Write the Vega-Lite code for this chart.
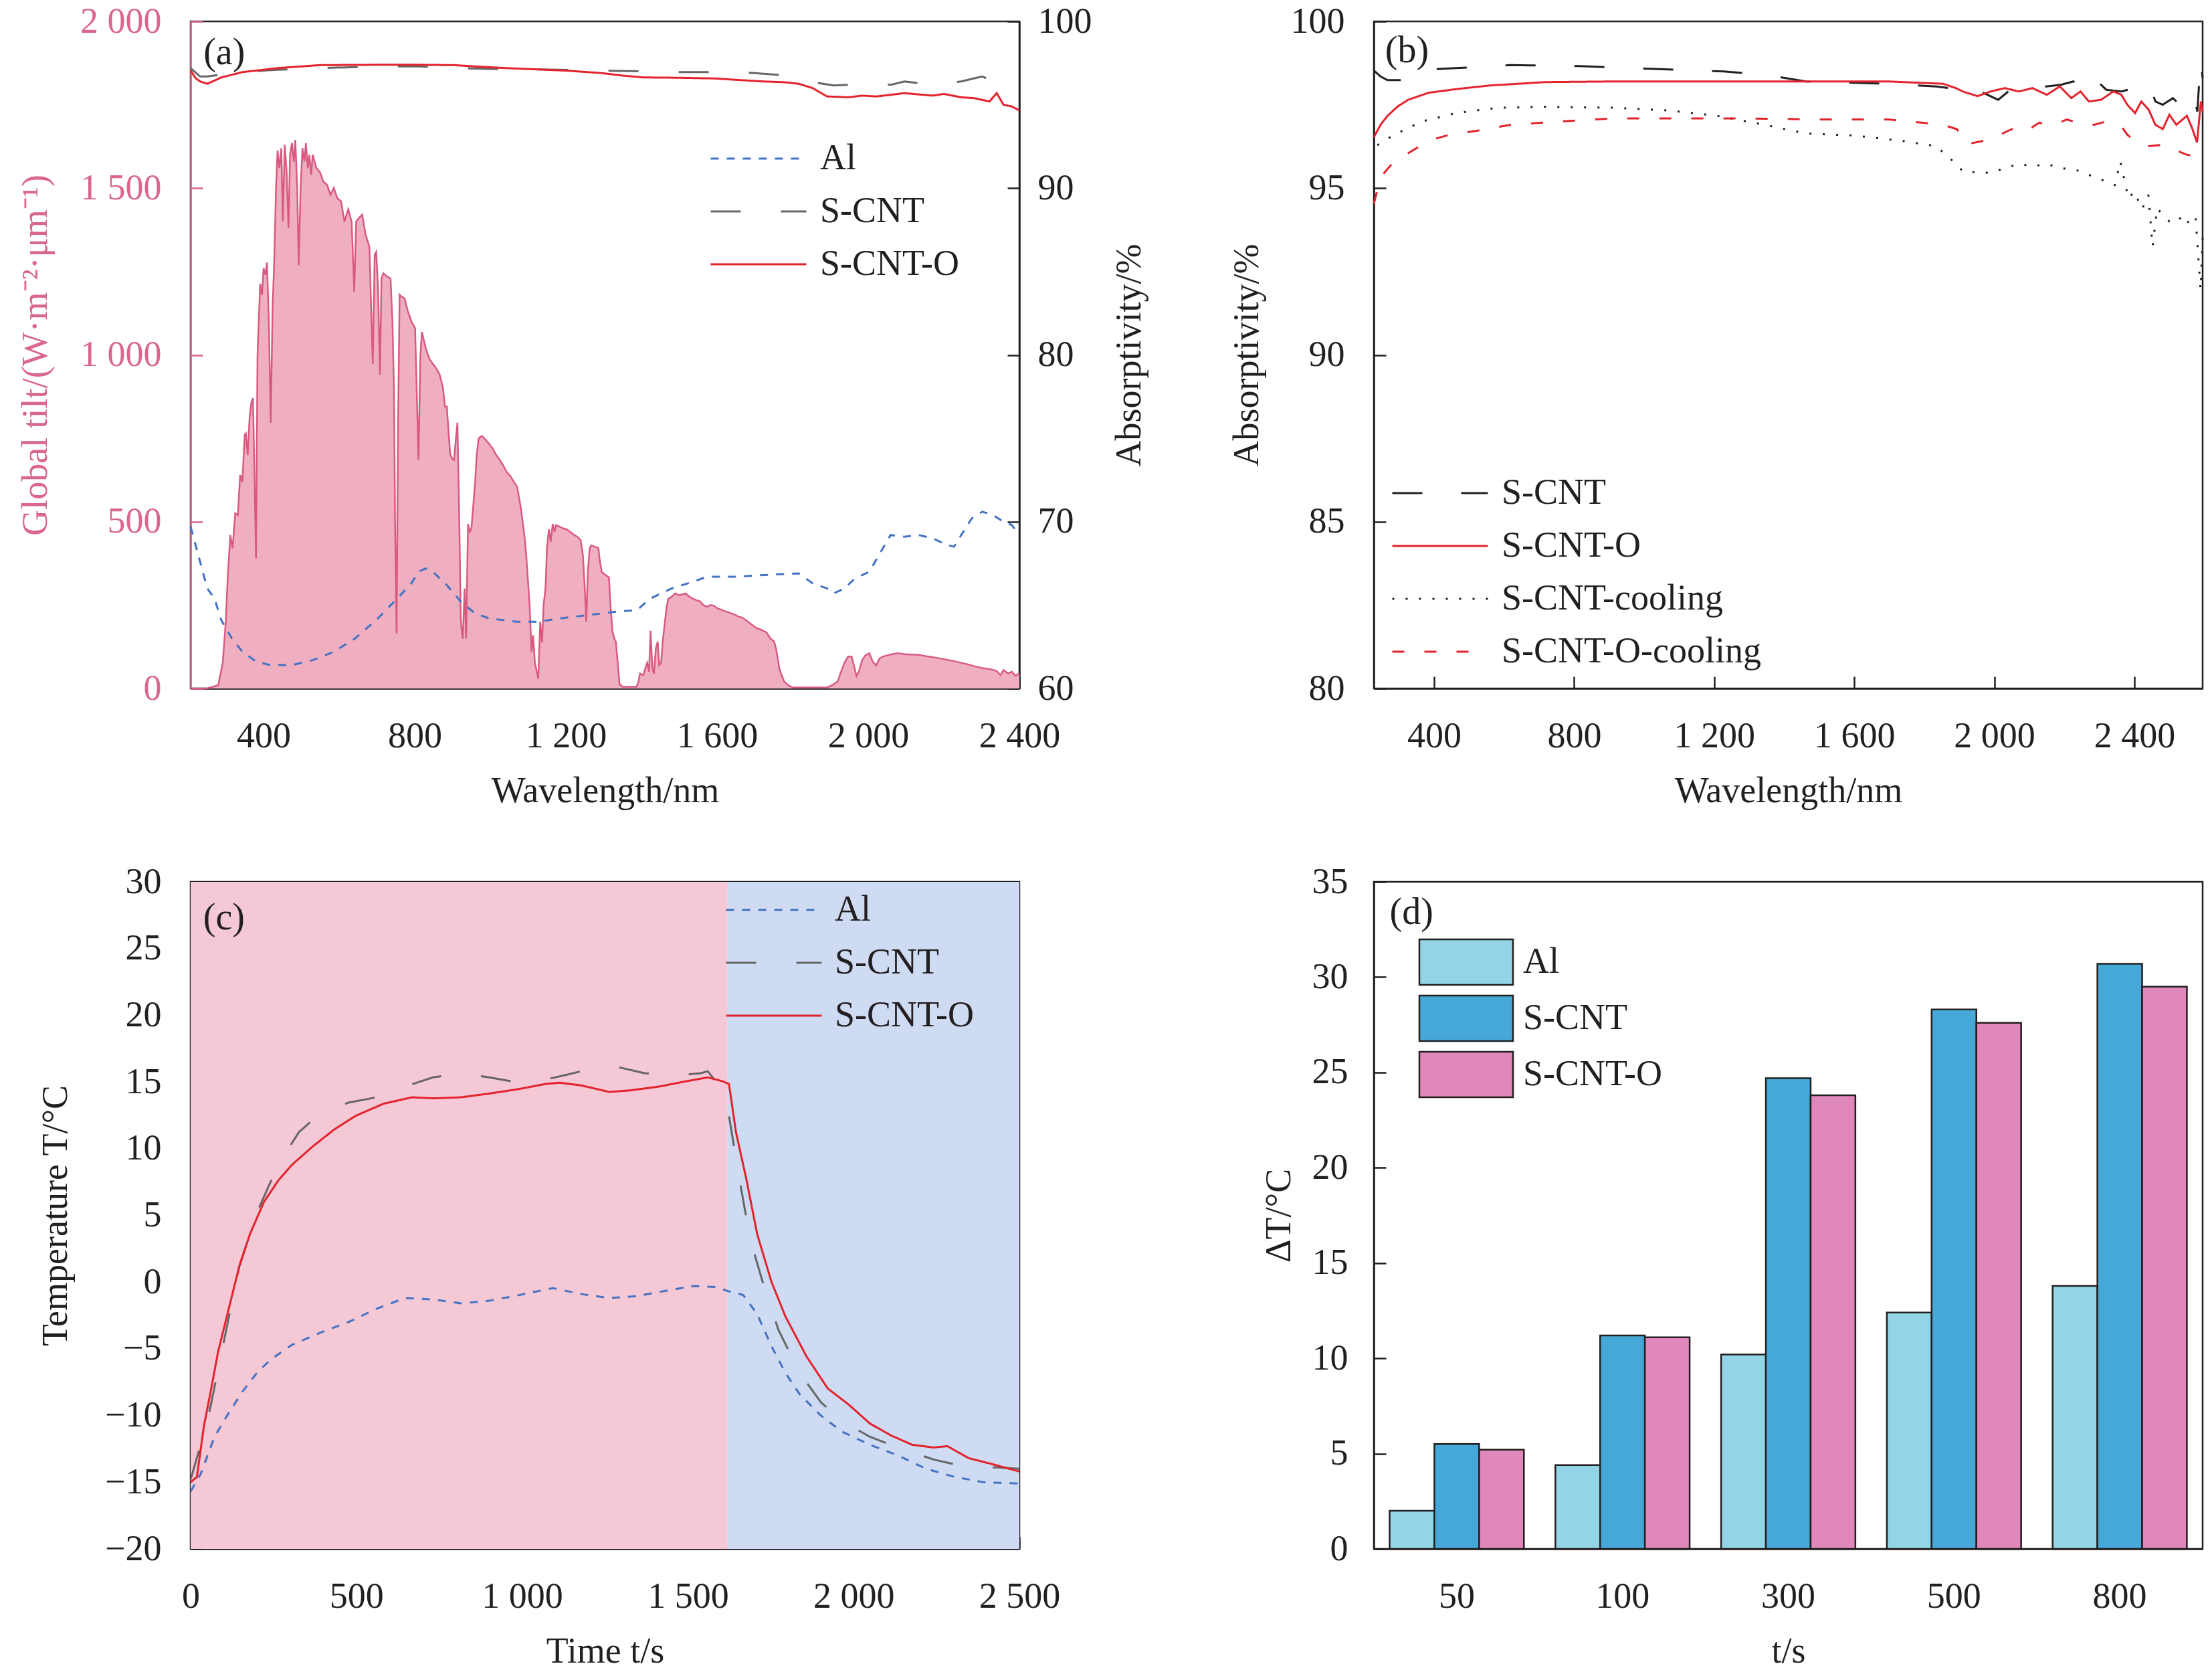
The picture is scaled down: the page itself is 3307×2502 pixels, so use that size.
{
  "$schema": "https://vega.github.io/schema/vega-lite/v6.json",
  "background": "white",
  "padding": {"left": 25, "top": 3, "right": 5, "bottom": 5},
  "columns": 2,
  "spacing": {"row": 289, "column": 530},
  "bounds": "flush",
  "resolve": {
    "scale": {"color": "independent", "strokeDash": "independent", "fill": "independent", "x": "independent", "y": "independent"},
    "legend": {"color": "independent", "strokeDash": "independent", "fill": "independent"}
  },
  "datasets": {
    "spectrum": [
      {"nm":207,"w":0},{"nm":250,"w":0},{"nm":266,"w":5},{"nm":280,"w":10},{"nm":292,"w":77},{"nm":300,"w":200},{"nm":305,"w":330},{"nm":312,"w":460},{"nm":318,"w":420},{"nm":325,"w":525},{"nm":332,"w":520},{"nm":338,"w":640},{"nm":344,"w":620},{"nm":350,"w":760},{"nm":353,"w":765},{"nm":358,"w":700},{"nm":363,"w":813},{"nm":368,"w":860},{"nm":372,"w":870},{"nm":376,"w":640},{"nm":380,"w":390},{"nm":384,"w":1000},{"nm":391,"w":1213},{"nm":396,"w":1180},{"nm":400,"w":1260},{"nm":405,"w":1240},{"nm":409,"w":1277},{"nm":414,"w":1100},{"nm":419,"w":797},{"nm":424,"w":1150},{"nm":428,"w":1270},{"nm":433,"w":1500},{"nm":437,"w":1613},{"nm":442,"w":1560},{"nm":447,"w":1620},{"nm":451,"w":1400},{"nm":456,"w":1630},{"nm":461,"w":1550},{"nm":466,"w":1380},{"nm":470,"w":1600},{"nm":475,"w":1635},{"nm":480,"w":1580},{"nm":484,"w":1645},{"nm":489,"w":1500},{"nm":493,"w":1269},{"nm":498,"w":1500},{"nm":503,"w":1620},{"nm":508,"w":1580},{"nm":512,"w":1635},{"nm":517,"w":1560},{"nm":521,"w":1600},{"nm":526,"w":1540},{"nm":530,"w":1600},{"nm":540,"w":1560},{"nm":549,"w":1549},{"nm":558,"w":1520},{"nm":568,"w":1510},{"nm":577,"w":1480},{"nm":586,"w":1501},{"nm":595,"w":1470},{"nm":605,"w":1461},{"nm":614,"w":1400},{"nm":624,"w":1437},{"nm":633,"w":1400},{"nm":640,"w":1189},{"nm":645,"w":1400},{"nm":652,"w":1410},{"nm":661,"w":1421},{"nm":670,"w":1360},{"nm":680,"w":1325},{"nm":689,"w":973},{"nm":694,"w":1300},{"nm":698,"w":1309},{"nm":703,"w":1200},{"nm":708,"w":941},{"nm":712,"w":1230},{"nm":717,"w":1245},{"nm":727,"w":1235},{"nm":736,"w":1229},{"nm":741,"w":1100},{"nm":745,"w":900},{"nm":748,"w":500},{"nm":752,"w":165},{"nm":756,"w":800},{"nm":760,"w":1181},{"nm":765,"w":1175},{"nm":773,"w":1170},{"nm":782,"w":1130},{"nm":791,"w":1101},{"nm":801,"w":1080},{"nm":810,"w":685},{"nm":815,"w":1000},{"nm":819,"w":1069},{"nm":829,"w":1021},{"nm":838,"w":990},{"nm":848,"w":973},{"nm":857,"w":960},{"nm":866,"w":941},{"nm":875,"w":900},{"nm":880,"w":845},{"nm":885,"w":845},{"nm":890,"w":760},{"nm":894,"w":701},{"nm":899,"w":690},{"nm":904,"w":685},{"nm":909,"w":750},{"nm":913,"w":797},{"nm":918,"w":500},{"nm":922,"w":200},{"nm":927,"w":149},{"nm":932,"w":300},{"nm":936,"w":150},{"nm":941,"w":493},{"nm":946,"w":470},{"nm":950,"w":480},{"nm":955,"w":550},{"nm":960,"w":621},{"nm":964,"w":700},{"nm":969,"w":749},{"nm":974,"w":755},{"nm":978,"w":757},{"nm":988,"w":745},{"nm":997,"w":733},{"nm":1006,"w":720},{"nm":1015,"w":701},{"nm":1025,"w":685},{"nm":1034,"w":669},{"nm":1043,"w":650},{"nm":1053,"w":637},{"nm":1062,"w":620},{"nm":1071,"w":605},{"nm":1081,"w":540},{"nm":1090,"w":461},{"nm":1095,"w":400},{"nm":1099,"w":333},{"nm":1104,"w":250},{"nm":1109,"w":110},{"nm":1113,"w":160},{"nm":1118,"w":77},{"nm":1123,"w":50},{"nm":1127,"w":29},{"nm":1132,"w":200},{"nm":1137,"w":138},{"nm":1141,"w":250},{"nm":1146,"w":300},{"nm":1150,"w":420},{"nm":1155,"w":477},{"nm":1160,"w":440},{"nm":1165,"w":493},{"nm":1170,"w":470},{"nm":1174,"w":490},{"nm":1183,"w":485},{"nm":1193,"w":480},{"nm":1202,"w":477},{"nm":1211,"w":470},{"nm":1221,"w":461},{"nm":1230,"w":455},{"nm":1239,"w":445},{"nm":1245,"w":400},{"nm":1250,"w":300},{"nm":1254,"w":200},{"nm":1258,"w":350},{"nm":1263,"w":420},{"nm":1267,"w":429},{"nm":1277,"w":425},{"nm":1286,"w":421},{"nm":1290,"w":380},{"nm":1295,"w":349},{"nm":1305,"w":340},{"nm":1314,"w":333},{"nm":1318,"w":250},{"nm":1323,"w":173},{"nm":1328,"w":150},{"nm":1332,"w":141},{"nm":1337,"w":80},{"nm":1342,"w":13},{"nm":1350,"w":5},{"nm":1387,"w":5},{"nm":1392,"w":20},{"nm":1396,"w":45},{"nm":1405,"w":40},{"nm":1410,"w":60},{"nm":1415,"w":77},{"nm":1420,"w":50},{"nm":1424,"w":173},{"nm":1429,"w":60},{"nm":1433,"w":45},{"nm":1438,"w":120},{"nm":1443,"w":141},{"nm":1447,"w":70},{"nm":1452,"w":77},{"nm":1457,"w":150},{"nm":1461,"w":189},{"nm":1466,"w":240},{"nm":1471,"w":269},{"nm":1480,"w":275},{"nm":1489,"w":285},{"nm":1498,"w":280},{"nm":1508,"w":282},{"nm":1517,"w":285},{"nm":1527,"w":275},{"nm":1536,"w":269},{"nm":1545,"w":265},{"nm":1555,"w":261},{"nm":1564,"w":250},{"nm":1573,"w":245},{"nm":1583,"w":250},{"nm":1592,"w":248},{"nm":1601,"w":240},{"nm":1610,"w":237},{"nm":1620,"w":232},{"nm":1629,"w":229},{"nm":1638,"w":225},{"nm":1648,"w":221},{"nm":1657,"w":215},{"nm":1666,"w":213},{"nm":1676,"w":205},{"nm":1685,"w":197},{"nm":1694,"w":190},{"nm":1704,"w":181},{"nm":1713,"w":178},{"nm":1722,"w":173},{"nm":1731,"w":168},{"nm":1737,"w":157},{"nm":1741,"w":150},{"nm":1751,"w":141},{"nm":1756,"w":120},{"nm":1760,"w":93},{"nm":1765,"w":60},{"nm":1769,"w":45},{"nm":1778,"w":20},{"nm":1788,"w":10},{"nm":1800,"w":3},{"nm":1891,"w":3},{"nm":1905,"w":10},{"nm":1919,"w":21},{"nm":1928,"w":50},{"nm":1937,"w":77},{"nm":1947,"w":96},{"nm":1956,"w":96},{"nm":1962,"w":70},{"nm":1969,"w":37},{"nm":1975,"w":50},{"nm":1984,"w":85},{"nm":1993,"w":100},{"nm":2003,"w":106},{"nm":2012,"w":80},{"nm":2021,"w":69},{"nm":2030,"w":90},{"nm":2040,"w":96},{"nm":2059,"w":102},{"nm":2078,"w":106},{"nm":2097,"w":103},{"nm":2115,"w":102},{"nm":2134,"w":101},{"nm":2153,"w":97},{"nm":2171,"w":94},{"nm":2190,"w":90},{"nm":2209,"w":86},{"nm":2227,"w":82},{"nm":2246,"w":77},{"nm":2265,"w":72},{"nm":2283,"w":66},{"nm":2302,"w":61},{"nm":2321,"w":58},{"nm":2339,"w":53},{"nm":2350,"w":40},{"nm":2358,"w":55},{"nm":2370,"w":45},{"nm":2380,"w":50},{"nm":2390,"w":38},{"nm":2400,"w":45}
    ],
    "absA": [
      {"s":"Al","nm":207,"a":69.7},{"s":"Al","nm":232,"a":67.6},{"s":"Al","nm":251,"a":66.0},{"s":"Al","nm":270,"a":65.4},{"s":"Al","nm":288,"a":64.1},{"s":"Al","nm":316,"a":63.0},{"s":"Al","nm":344,"a":62.2},{"s":"Al","nm":381,"a":61.6},{"s":"Al","nm":419,"a":61.4},{"s":"Al","nm":475,"a":61.4},{"s":"Al","nm":530,"a":61.7},{"s":"Al","nm":586,"a":62.2},{"s":"Al","nm":642,"a":63.0},{"s":"Al","nm":698,"a":64.1},{"s":"Al","nm":754,"a":65.4},{"s":"Al","nm":791,"a":66.3},{"s":"Al","nm":810,"a":67.0},{"s":"Al","nm":829,"a":67.2},{"s":"Al","nm":848,"a":67.0},{"s":"Al","nm":885,"a":66.2},{"s":"Al","nm":922,"a":65.2},{"s":"Al","nm":960,"a":64.5},{"s":"Al","nm":997,"a":64.2},{"s":"Al","nm":1071,"a":64.0},{"s":"Al","nm":1127,"a":64.0},{"s":"Al","nm":1183,"a":64.2},{"s":"Al","nm":1258,"a":64.4},{"s":"Al","nm":1332,"a":64.6},{"s":"Al","nm":1388,"a":64.7},{"s":"Al","nm":1424,"a":65.4},{"s":"Al","nm":1480,"a":66.0},{"s":"Al","nm":1536,"a":66.4},{"s":"Al","nm":1573,"a":66.7},{"s":"Al","nm":1648,"a":66.7},{"s":"Al","nm":1722,"a":66.8},{"s":"Al","nm":1816,"a":66.9},{"s":"Al","nm":1853,"a":66.3},{"s":"Al","nm":1891,"a":66.0},{"s":"Al","nm":1909,"a":65.7},{"s":"Al","nm":1937,"a":66.0},{"s":"Al","nm":1965,"a":66.6},{"s":"Al","nm":2003,"a":67.0},{"s":"Al","nm":2031,"a":68.1},{"s":"Al","nm":2059,"a":69.2},{"s":"Al","nm":2096,"a":69.1},{"s":"Al","nm":2134,"a":69.2},{"s":"Al","nm":2171,"a":69.0},{"s":"Al","nm":2209,"a":68.6},{"s":"Al","nm":2227,"a":68.5},{"s":"Al","nm":2246,"a":69.2},{"s":"Al","nm":2274,"a":70.2},{"s":"Al","nm":2302,"a":70.6},{"s":"Al","nm":2330,"a":70.4},{"s":"Al","nm":2358,"a":70.0},{"s":"Al","nm":2380,"a":69.8},{"s":"Al","nm":2400,"a":69.2},
      {"s":"S-CNT","nm":207,"a":97.2},{"s":"S-CNT","nm":232,"a":96.7},{"s":"S-CNT","nm":251,"a":96.7},{"s":"S-CNT","nm":300,"a":96.85},{"s":"S-CNT","nm":344,"a":96.96},{"s":"S-CNT","nm":400,"a":97.05},{"s":"S-CNT","nm":437,"a":97.1},{"s":"S-CNT","nm":549,"a":97.2},{"s":"S-CNT","nm":700,"a":97.3},{"s":"S-CNT","nm":810,"a":97.3},{"s":"S-CNT","nm":904,"a":97.2},{"s":"S-CNT","nm":1000,"a":97.15},{"s":"S-CNT","nm":1127,"a":97.12},{"s":"S-CNT","nm":1295,"a":97.05},{"s":"S-CNT","nm":1500,"a":96.96},{"s":"S-CNT","nm":1648,"a":96.96},{"s":"S-CNT","nm":1700,"a":96.9},{"s":"S-CNT","nm":1816,"a":96.7},{"s":"S-CNT","nm":1870,"a":96.3},{"s":"S-CNT","nm":1909,"a":96.16},{"s":"S-CNT","nm":1947,"a":96.2},{"s":"S-CNT","nm":1985,"a":96.25},{"s":"S-CNT","nm":2021,"a":96.3},{"s":"S-CNT","nm":2060,"a":96.2},{"s":"S-CNT","nm":2096,"a":96.4},{"s":"S-CNT","nm":2134,"a":96.3},{"s":"S-CNT","nm":2171,"a":96.45},{"s":"S-CNT","nm":2209,"a":96.3},{"s":"S-CNT","nm":2246,"a":96.4},{"s":"S-CNT","nm":2283,"a":96.6},{"s":"S-CNT","nm":2302,"a":96.7},{"s":"S-CNT","nm":2330,"a":96.4},{"s":"S-CNT","nm":2358,"a":96.2},{"s":"S-CNT","nm":2380,"a":96.3},{"s":"S-CNT","nm":2400,"a":96.1},
      {"s":"S-CNT-O","nm":207,"a":97.06},{"s":"S-CNT-O","nm":220,"a":96.6},{"s":"S-CNT-O","nm":232,"a":96.4},{"s":"S-CNT-O","nm":251,"a":96.26},{"s":"S-CNT-O","nm":270,"a":96.45},{"s":"S-CNT-O","nm":288,"a":96.64},{"s":"S-CNT-O","nm":316,"a":96.8},{"s":"S-CNT-O","nm":344,"a":96.96},{"s":"S-CNT-O","nm":400,"a":97.1},{"s":"S-CNT-O","nm":437,"a":97.2},{"s":"S-CNT-O","nm":500,"a":97.3},{"s":"S-CNT-O","nm":549,"a":97.38},{"s":"S-CNT-O","nm":700,"a":97.4},{"s":"S-CNT-O","nm":810,"a":97.4},{"s":"S-CNT-O","nm":904,"a":97.38},{"s":"S-CNT-O","nm":960,"a":97.3},{"s":"S-CNT-O","nm":1042,"a":97.2},{"s":"S-CNT-O","nm":1127,"a":97.12},{"s":"S-CNT-O","nm":1200,"a":97.05},{"s":"S-CNT-O","nm":1295,"a":96.9},{"s":"S-CNT-O","nm":1350,"a":96.75},{"s":"S-CNT-O","nm":1406,"a":96.64},{"s":"S-CNT-O","nm":1500,"a":96.62},{"s":"S-CNT-O","nm":1592,"a":96.58},{"s":"S-CNT-O","nm":1648,"a":96.5},{"s":"S-CNT-O","nm":1722,"a":96.4},{"s":"S-CNT-O","nm":1780,"a":96.35},{"s":"S-CNT-O","nm":1816,"a":96.26},{"s":"S-CNT-O","nm":1853,"a":96.0},{"s":"S-CNT-O","nm":1872,"a":95.75},{"s":"S-CNT-O","nm":1891,"a":95.5},{"s":"S-CNT-O","nm":1920,"a":95.48},{"s":"S-CNT-O","nm":1947,"a":95.45},{"s":"S-CNT-O","nm":1985,"a":95.55},{"s":"S-CNT-O","nm":2021,"a":95.5},{"s":"S-CNT-O","nm":2060,"a":95.6},{"s":"S-CNT-O","nm":2096,"a":95.7},{"s":"S-CNT-O","nm":2134,"a":95.62},{"s":"S-CNT-O","nm":2171,"a":95.55},{"s":"S-CNT-O","nm":2200,"a":95.65},{"s":"S-CNT-O","nm":2246,"a":95.45},{"s":"S-CNT-O","nm":2280,"a":95.4},{"s":"S-CNT-O","nm":2321,"a":95.2},{"s":"S-CNT-O","nm":2340,"a":95.7},{"s":"S-CNT-O","nm":2358,"a":95.0},{"s":"S-CNT-O","nm":2380,"a":94.9},{"s":"S-CNT-O","nm":2400,"a":94.66}
    ],
    "absB": [
      {"s":"S-CNT","nm":228,"a":98.53},{"s":"S-CNT","nm":247,"a":98.35},{"s":"S-CNT","nm":267,"a":98.24},{"s":"S-CNT","nm":326,"a":98.24},{"s":"S-CNT","nm":345,"a":98.4},{"s":"S-CNT","nm":384,"a":98.56},{"s":"S-CNT","nm":463,"a":98.6},{"s":"S-CNT","nm":619,"a":98.69},{"s":"S-CNT","nm":815,"a":98.66},{"s":"S-CNT","nm":1011,"a":98.58},{"s":"S-CNT","nm":1227,"a":98.5},{"s":"S-CNT","nm":1345,"a":98.4},{"s":"S-CNT","nm":1462,"a":98.2},{"s":"S-CNT","nm":1697,"a":98.13},{"s":"S-CNT","nm":1834,"a":98.05},{"s":"S-CNT","nm":1893,"a":97.97},{"s":"S-CNT","nm":1932,"a":97.73},{"s":"S-CNT","nm":1960,"a":97.9},{"s":"S-CNT","nm":2011,"a":97.65},{"s":"S-CNT","nm":2040,"a":97.9},{"s":"S-CNT","nm":2070,"a":98.05},{"s":"S-CNT","nm":2110,"a":97.95},{"s":"S-CNT","nm":2148,"a":98.05},{"s":"S-CNT","nm":2190,"a":98.1},{"s":"S-CNT","nm":2226,"a":98.2},{"s":"S-CNT","nm":2260,"a":97.9},{"s":"S-CNT","nm":2285,"a":98.3},{"s":"S-CNT","nm":2320,"a":97.95},{"s":"S-CNT","nm":2363,"a":97.9},{"s":"S-CNT","nm":2400,"a":98.0},{"s":"S-CNT","nm":2441,"a":98.2},{"s":"S-CNT","nm":2460,"a":97.6},{"s":"S-CNT","nm":2481,"a":97.5},{"s":"S-CNT","nm":2510,"a":97.7},{"s":"S-CNT","nm":2540,"a":97.4},{"s":"S-CNT","nm":2569,"a":97.8},{"s":"S-CNT","nm":2580,"a":97.3},{"s":"S-CNT","nm":2589,"a":98.85},{"s":"S-CNT","nm":2595,"a":98.3},
      {"s":"S-CNT-O","nm":228,"a":96.53},{"s":"S-CNT-O","nm":247,"a":96.9},{"s":"S-CNT-O","nm":267,"a":97.17},{"s":"S-CNT-O","nm":296,"a":97.45},{"s":"S-CNT-O","nm":326,"a":97.65},{"s":"S-CNT-O","nm":384,"a":97.86},{"s":"S-CNT-O","nm":463,"a":97.97},{"s":"S-CNT-O","nm":560,"a":98.08},{"s":"S-CNT-O","nm":717,"a":98.18},{"s":"S-CNT-O","nm":913,"a":98.2},{"s":"S-CNT-O","nm":1501,"a":98.2},{"s":"S-CNT-O","nm":1697,"a":98.2},{"s":"S-CNT-O","nm":1854,"a":98.13},{"s":"S-CNT-O","nm":1890,"a":98.0},{"s":"S-CNT-O","nm":1912,"a":97.89},{"s":"S-CNT-O","nm":1952,"a":97.76},{"s":"S-CNT-O","nm":1990,"a":97.9},{"s":"S-CNT-O","nm":2030,"a":98.0},{"s":"S-CNT-O","nm":2070,"a":97.9},{"s":"S-CNT-O","nm":2109,"a":98.0},{"s":"S-CNT-O","nm":2150,"a":97.8},{"s":"S-CNT-O","nm":2187,"a":98.05},{"s":"S-CNT-O","nm":2220,"a":97.7},{"s":"S-CNT-O","nm":2246,"a":97.9},{"s":"S-CNT-O","nm":2270,"a":97.6},{"s":"S-CNT-O","nm":2305,"a":97.65},{"s":"S-CNT-O","nm":2340,"a":97.9},{"s":"S-CNT-O","nm":2363,"a":97.8},{"s":"S-CNT-O","nm":2380,"a":97.5},{"s":"S-CNT-O","nm":2402,"a":97.25},{"s":"S-CNT-O","nm":2420,"a":97.6},{"s":"S-CNT-O","nm":2441,"a":97.35},{"s":"S-CNT-O","nm":2460,"a":96.9},{"s":"S-CNT-O","nm":2481,"a":96.77},{"s":"S-CNT-O","nm":2500,"a":97.2},{"s":"S-CNT-O","nm":2520,"a":96.9},{"s":"S-CNT-O","nm":2550,"a":97.17},{"s":"S-CNT-O","nm":2565,"a":96.8},{"s":"S-CNT-O","nm":2579,"a":96.37},{"s":"S-CNT-O","nm":2590,"a":97.6},{"s":"S-CNT-O","nm":2595,"a":97.3},
      {"s":"S-CNT-cooling","nm":238,"a":96.29},{"s":"S-CNT-cooling","nm":286,"a":96.6},{"s":"S-CNT-cooling","nm":365,"a":97.0},{"s":"S-CNT-cooling","nm":463,"a":97.25},{"s":"S-CNT-cooling","nm":580,"a":97.41},{"s":"S-CNT-cooling","nm":717,"a":97.44},{"s":"S-CNT-cooling","nm":913,"a":97.41},{"s":"S-CNT-cooling","nm":1070,"a":97.33},{"s":"S-CNT-cooling","nm":1207,"a":97.17},{"s":"S-CNT-cooling","nm":1344,"a":96.9},{"s":"S-CNT-cooling","nm":1462,"a":96.64},{"s":"S-CNT-cooling","nm":1599,"a":96.58},{"s":"S-CNT-cooling","nm":1736,"a":96.42},{"s":"S-CNT-cooling","nm":1834,"a":96.26},{"s":"S-CNT-cooling","nm":1883,"a":95.8},{"s":"S-CNT-cooling","nm":1912,"a":95.49},{"s":"S-CNT-cooling","nm":1991,"a":95.46},{"s":"S-CNT-cooling","nm":2030,"a":95.6},{"s":"S-CNT-cooling","nm":2070,"a":95.73},{"s":"S-CNT-cooling","nm":2110,"a":95.65},{"s":"S-CNT-cooling","nm":2148,"a":95.73},{"s":"S-CNT-cooling","nm":2190,"a":95.6},{"s":"S-CNT-cooling","nm":2226,"a":95.57},{"s":"S-CNT-cooling","nm":2260,"a":95.45},{"s":"S-CNT-cooling","nm":2285,"a":95.33},{"s":"S-CNT-cooling","nm":2320,"a":95.2},{"s":"S-CNT-cooling","nm":2344,"a":95.09},{"s":"S-CNT-cooling","nm":2360,"a":95.8},{"s":"S-CNT-cooling","nm":2383,"a":94.69},{"s":"S-CNT-cooling","nm":2400,"a":94.9},{"s":"S-CNT-cooling","nm":2422,"a":94.37},{"s":"S-CNT-cooling","nm":2440,"a":94.8},{"s":"S-CNT-cooling","nm":2452,"a":93.25},{"s":"S-CNT-cooling","nm":2465,"a":94.4},{"s":"S-CNT-cooling","nm":2481,"a":94.2},{"s":"S-CNT-cooling","nm":2500,"a":94.0},{"s":"S-CNT-cooling","nm":2520,"a":93.97},{"s":"S-CNT-cooling","nm":2540,"a":94.2},{"s":"S-CNT-cooling","nm":2559,"a":93.9},{"s":"S-CNT-cooling","nm":2575,"a":94.1},{"s":"S-CNT-cooling","nm":2589,"a":91.97},{"s":"S-CNT-cooling","nm":2595,"a":93.5},
      {"s":"S-CNT-O-cooling","nm":228,"a":94.53},{"s":"S-CNT-O-cooling","nm":247,"a":95.33},{"s":"S-CNT-O-cooling","nm":286,"a":95.81},{"s":"S-CNT-O-cooling","nm":326,"a":96.05},{"s":"S-CNT-O-cooling","nm":384,"a":96.42},{"s":"S-CNT-O-cooling","nm":443,"a":96.6},{"s":"S-CNT-O-cooling","nm":521,"a":96.72},{"s":"S-CNT-O-cooling","nm":619,"a":96.9},{"s":"S-CNT-O-cooling","nm":756,"a":97.0},{"s":"S-CNT-O-cooling","nm":913,"a":97.09},{"s":"S-CNT-O-cooling","nm":1305,"a":97.09},{"s":"S-CNT-O-cooling","nm":1501,"a":97.06},{"s":"S-CNT-O-cooling","nm":1697,"a":97.06},{"s":"S-CNT-O-cooling","nm":1854,"a":96.9},{"s":"S-CNT-O-cooling","nm":1893,"a":96.77},{"s":"S-CNT-O-cooling","nm":1922,"a":96.32},{"s":"S-CNT-O-cooling","nm":1960,"a":96.4},{"s":"S-CNT-O-cooling","nm":1991,"a":96.48},{"s":"S-CNT-O-cooling","nm":2050,"a":96.77},{"s":"S-CNT-O-cooling","nm":2090,"a":96.7},{"s":"S-CNT-O-cooling","nm":2128,"a":96.96},{"s":"S-CNT-O-cooling","nm":2170,"a":96.9},{"s":"S-CNT-O-cooling","nm":2207,"a":97.06},{"s":"S-CNT-O-cooling","nm":2240,"a":96.95},{"s":"S-CNT-O-cooling","nm":2285,"a":96.9},{"s":"S-CNT-O-cooling","nm":2320,"a":97.0},{"s":"S-CNT-O-cooling","nm":2363,"a":96.85},{"s":"S-CNT-O-cooling","nm":2380,"a":96.6},{"s":"S-CNT-O-cooling","nm":2402,"a":96.42},{"s":"S-CNT-O-cooling","nm":2441,"a":96.26},{"s":"S-CNT-O-cooling","nm":2480,"a":96.3},{"s":"S-CNT-O-cooling","nm":2520,"a":96.13},{"s":"S-CNT-O-cooling","nm":2550,"a":96.0},{"s":"S-CNT-O-cooling","nm":2579,"a":95.97},{"s":"S-CNT-O-cooling","nm":2595,"a":95.65}
    ],
    "phases": [
      {"phase":"heating","t0":0,"t1":1620},
      {"phase":"cooling","t0":1620,"t1":2500}
    ],
    "temp": [
      {"s":"Al","t":0,"T":-15.7},{"s":"Al","t":30,"T":-14.4},{"s":"Al","t":72,"T":-11.6},{"s":"Al","t":115,"T":-9.8},{"s":"Al","t":157,"T":-8.2},{"s":"Al","t":200,"T":-6.8},{"s":"Al","t":242,"T":-5.8},{"s":"Al","t":306,"T":-4.7},{"s":"Al","t":391,"T":-3.8},{"s":"Al","t":476,"T":-3.0},{"s":"Al","t":561,"T":-2.0},{"s":"Al","t":646,"T":-1.2},{"s":"Al","t":731,"T":-1.3},{"s":"Al","t":816,"T":-1.6},{"s":"Al","t":901,"T":-1.4},{"s":"Al","t":986,"T":-1.0},{"s":"Al","t":1093,"T":-0.45},{"s":"Al","t":1178,"T":-0.9},{"s":"Al","t":1263,"T":-1.2},{"s":"Al","t":1348,"T":-1.05},{"s":"Al","t":1433,"T":-0.65},{"s":"Al","t":1518,"T":-0.3},{"s":"Al","t":1582,"T":-0.37},{"s":"Al","t":1624,"T":-0.7},{"s":"Al","t":1667,"T":-0.97},{"s":"Al","t":1709,"T":-2.4},{"s":"Al","t":1752,"T":-4.8},{"s":"Al","t":1794,"T":-6.8},{"s":"Al","t":1837,"T":-8.4},{"s":"Al","t":1901,"T":-10.0},{"s":"Al","t":1964,"T":-11.2},{"s":"Al","t":2049,"T":-12.2},{"s":"Al","t":2134,"T":-13.0},{"s":"Al","t":2219,"T":-14.0},{"s":"Al","t":2304,"T":-14.6},{"s":"Al","t":2390,"T":-15.0},{"s":"Al","t":2500,"T":-15.1},
      {"s":"S-CNT","t":0,"T":-14.8},{"s":"S-CNT","t":51,"T":-10.4},{"s":"S-CNT","t":94,"T":-5.2},{"s":"S-CNT","t":147,"T":1.2},{"s":"S-CNT","t":200,"T":5.2},{"s":"S-CNT","t":264,"T":8.8},{"s":"S-CNT","t":327,"T":11.25},{"s":"S-CNT","t":391,"T":12.65},{"s":"S-CNT","t":476,"T":13.45},{"s":"S-CNT","t":561,"T":13.85},{"s":"S-CNT","t":646,"T":14.65},{"s":"S-CNT","t":731,"T":15.34},{"s":"S-CNT","t":816,"T":15.66},{"s":"S-CNT","t":901,"T":15.34},{"s":"S-CNT","t":965,"T":15.06},{"s":"S-CNT","t":1050,"T":15.06},{"s":"S-CNT","t":1135,"T":15.54},{"s":"S-CNT","t":1220,"T":16.06},{"s":"S-CNT","t":1284,"T":16.14},{"s":"S-CNT","t":1369,"T":15.66},{"s":"S-CNT","t":1454,"T":15.46},{"s":"S-CNT","t":1539,"T":15.66},{"s":"S-CNT","t":1560,"T":15.8},{"s":"S-CNT","t":1603,"T":14.45},{"s":"S-CNT","t":1624,"T":12.45},{"s":"S-CNT","t":1656,"T":7.64},{"s":"S-CNT","t":1688,"T":3.2},{"s":"S-CNT","t":1730,"T":-0.37},{"s":"S-CNT","t":1773,"T":-3.57},{"s":"S-CNT","t":1837,"T":-6.8},{"s":"S-CNT","t":1901,"T":-9.0},{"s":"S-CNT","t":1964,"T":-10.4},{"s":"S-CNT","t":2049,"T":-11.6},{"s":"S-CNT","t":2134,"T":-12.4},{"s":"S-CNT","t":2241,"T":-13.3},{"s":"S-CNT","t":2347,"T":-13.9},{"s":"S-CNT","t":2432,"T":-13.9},{"s":"S-CNT","t":2500,"T":-14.0},
      {"s":"S-CNT-O","t":0,"T":-15.0},{"s":"S-CNT-O","t":19,"T":-14.6},{"s":"S-CNT-O","t":40,"T":-10.8},{"s":"S-CNT-O","t":62,"T":-8.0},{"s":"S-CNT-O","t":83,"T":-5.2},{"s":"S-CNT-O","t":115,"T":-2.0},{"s":"S-CNT-O","t":147,"T":1.2},{"s":"S-CNT-O","t":179,"T":3.6},{"s":"S-CNT-O","t":221,"T":6.0},{"s":"S-CNT-O","t":264,"T":7.6},{"s":"S-CNT-O","t":306,"T":8.8},{"s":"S-CNT-O","t":370,"T":10.2},{"s":"S-CNT-O","t":434,"T":11.45},{"s":"S-CNT-O","t":497,"T":12.45},{"s":"S-CNT-O","t":582,"T":13.37},{"s":"S-CNT-O","t":668,"T":13.85},{"s":"S-CNT-O","t":731,"T":13.77},{"s":"S-CNT-O","t":816,"T":13.85},{"s":"S-CNT-O","t":901,"T":14.13},{"s":"S-CNT-O","t":986,"T":14.45},{"s":"S-CNT-O","t":1071,"T":14.85},{"s":"S-CNT-O","t":1114,"T":14.94},{"s":"S-CNT-O","t":1178,"T":14.74},{"s":"S-CNT-O","t":1263,"T":14.25},{"s":"S-CNT-O","t":1327,"T":14.37},{"s":"S-CNT-O","t":1412,"T":14.65},{"s":"S-CNT-O","t":1497,"T":15.06},{"s":"S-CNT-O","t":1560,"T":15.34},{"s":"S-CNT-O","t":1603,"T":15.06},{"s":"S-CNT-O","t":1624,"T":14.85},{"s":"S-CNT-O","t":1645,"T":11.25},{"s":"S-CNT-O","t":1677,"T":7.64},{"s":"S-CNT-O","t":1709,"T":3.6},{"s":"S-CNT-O","t":1752,"T":0.03},{"s":"S-CNT-O","t":1794,"T":-2.57},{"s":"S-CNT-O","t":1858,"T":-5.58},{"s":"S-CNT-O","t":1922,"T":-7.98},{"s":"S-CNT-O","t":1986,"T":-9.2},{"s":"S-CNT-O","t":2049,"T":-10.6},{"s":"S-CNT-O","t":2113,"T":-11.5},{"s":"S-CNT-O","t":2177,"T":-12.2},{"s":"S-CNT-O","t":2241,"T":-12.4},{"s":"S-CNT-O","t":2283,"T":-12.3},{"s":"S-CNT-O","t":2347,"T":-13.2},{"s":"S-CNT-O","t":2411,"T":-13.6},{"s":"S-CNT-O","t":2500,"T":-14.2}
    ],
    "bars": [
      {"t":"50","s":"Al","dT":2.0},{"t":"50","s":"S-CNT","dT":5.5},{"t":"50","s":"S-CNT-O","dT":5.2},
      {"t":"100","s":"Al","dT":4.4},{"t":"100","s":"S-CNT","dT":11.2},{"t":"100","s":"S-CNT-O","dT":11.1},
      {"t":"300","s":"Al","dT":10.2},{"t":"300","s":"S-CNT","dT":24.7},{"t":"300","s":"S-CNT-O","dT":23.8},
      {"t":"500","s":"Al","dT":12.4},{"t":"500","s":"S-CNT","dT":28.3},{"t":"500","s":"S-CNT-O","dT":27.6},
      {"t":"800","s":"Al","dT":13.8},{"t":"800","s":"S-CNT","dT":30.7},{"t":"800","s":"S-CNT-O","dT":29.5}
    ]
  },
  "concat": [
    {
      "width": 1239,
      "height": 997,
      "layer": [
        {
          "data": {"name": "spectrum"},
          "mark": {"type": "area", "color": "#f0afc1", "opacity": 1, "line": {"color": "#d85a80", "strokeWidth": 2.5}},
          "encoding": {
            "x": {"field": "nm", "type": "quantitative", "title": "Wavelength/nm", "scale": {"domain": [207, 2400], "nice": false, "zero": false},
                  "axis": {"values": [400, 800, 1200, 1600, 2000, 2400]}},
            "y": {"field": "w", "type": "quantitative", "title": "Global tilt/(W·m⁻²·μm⁻¹)", "scale": {"domain": [0, 2000], "nice": false},
                  "axis": {"orient": "left", "values": [0, 500, 1000, 1500, 2000], "labelColor": "#d9668b", "titleColor": "#d9668b", "domainColor": "#d9668b", "tickColor": "#d9668b", "titlePadding": 39}}
          }
        },
        {
          "layer": [
            {
              "data": {"name": "absA"},
              "mark": {"type": "line", "strokeWidth": 3},
              "encoding": {
                "x": {"field": "nm", "type": "quantitative", "title": "Wavelength/nm", "scale": {"domain": [207, 2400], "nice": false, "zero": false}},
                "y": {"field": "a", "type": "quantitative", "title": "Absorptivity/%", "scale": {"domain": [60, 100], "nice": false, "zero": false},
                      "axis": {"orient": "right", "values": [60, 70, 80, 90, 100], "labelPadding": 45, "titleAngle": 270, "titlePadding": 83}},
                "color": {"field": "s", "type": "nominal", "scale": {"domain": ["Al", "S-CNT", "S-CNT-O"], "range": ["#4472c4", "#666666", "#e3232c"]},
                          "legend": {"title": null, "legendX": 797, "legendY": 153, "symbolType": "M-1.416,0H1.416", "symbolSize": 10201, "labelOffset": 40}},
                "strokeDash": {"field": "s", "type": "nominal", "scale": {"domain": ["Al", "S-CNT", "S-CNT-O"], "range": [[12, 12], [45, 60], [1, 0]]},
                          "legend": {"title": null, "legendX": 797, "legendY": 153, "symbolType": "M-1.416,0H1.416", "symbolSize": 10201, "labelOffset": 40}}
              }
            },
            {
              "data": {"values": [{}]},
              "mark": {"type": "text", "text": "(a)", "align": "left", "baseline": "middle", "fontSize": 56, "color": "#231f20"},
              "encoding": {
                "x": {"datum": 241, "type": "quantitative", "title": "Wavelength/nm"},
                "y": {"datum": 98.1, "type": "quantitative", "title": "Absorptivity/%"}
              }
            }
          ]
        }
      ],
      "resolve": {"scale": {"y": "independent"}, "axis": {"y": "independent"}}
    },
    {
      "width": 1239,
      "height": 997,
      "layer": [
        {
          "data": {"name": "absB"},
          "mark": {"type": "line", "strokeWidth": 3},
          "encoding": {
            "x": {"field": "nm", "type": "quantitative", "title": "Wavelength/nm", "scale": {"domain": [228, 2595], "nice": false, "zero": false},
                  "axis": {"values": [400, 800, 1200, 1600, 2000, 2400]}},
            "y": {"field": "a", "type": "quantitative", "title": "Absorptivity/%", "scale": {"domain": [80, 100], "nice": false, "zero": false},
                  "axis": {"values": [80, 85, 90, 95, 100], "titlePadding": 38}},
            "color": {"field": "s", "type": "nominal", "scale": {"domain": ["S-CNT", "S-CNT-O", "S-CNT-cooling", "S-CNT-O-cooling"], "range": ["#231f20", "#e3232c", "#231f20", "#e3232c"]},
                      "legend": {"title": null, "legendX": 47, "legendY": 653, "symbolType": "M-1.416,0H1.416", "symbolSize": 10201, "labelOffset": 40}},
            "strokeDash": {"field": "s", "type": "nominal", "scale": {"domain": ["S-CNT", "S-CNT-O", "S-CNT-cooling", "S-CNT-O-cooling"], "range": [[45, 58], [1, 0], [3, 17], [18, 30]]},
                      "legend": {"title": null, "legendX": 47, "legendY": 653, "symbolType": "M-1.416,0H1.416", "symbolSize": 10201, "labelOffset": 40}}
          }
        },
        {
          "data": {"values": [{}]},
          "mark": {"type": "text", "text": "(b)", "align": "left", "baseline": "middle", "fontSize": 56, "color": "#231f20"},
          "encoding": {
            "x": {"datum": 260, "type": "quantitative", "title": "Wavelength/nm"},
            "y": {"datum": 99.12, "type": "quantitative", "title": "Absorptivity/%"}
          }
        }
      ]
    },
    {
      "width": 1239,
      "height": 997,
      "layer": [
        {
          "data": {"name": "phases"},
          "mark": {"type": "rect"},
          "encoding": {
            "x": {"field": "t0", "type": "quantitative", "title": "Time t/s", "scale": {"domain": [0, 2500], "nice": false},
                  "axis": {"values": [0, 500, 1000, 1500, 2000, 2500]}},
            "x2": {"field": "t1"},
            "fill": {"field": "phase", "type": "nominal", "scale": {"domain": ["heating", "cooling"], "range": ["#f5c8d6", "#cfdbf2"]}, "legend": null}
          }
        },
        {
          "data": {"name": "temp"},
          "mark": {"type": "line", "strokeWidth": 3},
          "encoding": {
            "x": {"field": "t", "type": "quantitative", "title": "Time t/s", "scale": {"domain": [0, 2500], "nice": false}},
            "y": {"field": "T", "type": "quantitative", "title": "Temperature T/°C", "scale": {"domain": [-20, 30], "nice": false, "zero": false},
                  "axis": {"values": [-20, -15, -10, -5, 0, 5, 10, 15, 20, 25, 30], "titlePadding": 46}},
            "color": {"field": "s", "type": "nominal", "scale": {"domain": ["Al", "S-CNT", "S-CNT-O"], "range": ["#4472c4", "#666666", "#e3232c"]},
                      "legend": {"title": null, "legendX": 820, "legendY": -10, "symbolType": "M-1.416,0H1.416", "symbolSize": 10201, "labelOffset": 39}},
            "strokeDash": {"field": "s", "type": "nominal", "scale": {"domain": ["Al", "S-CNT", "S-CNT-O"], "range": [[12, 12], [45, 60], [1, 0]]},
                      "legend": {"title": null, "legendX": 820, "legendY": -10, "symbolType": "M-1.416,0H1.416", "symbolSize": 10201, "labelOffset": 39}}
          }
        },
        {
          "data": {"values": [{}]},
          "mark": {"type": "text", "text": "(c)", "align": "left", "baseline": "middle", "fontSize": 56, "color": "#231f20"},
          "encoding": {
            "x": {"datum": 38, "type": "quantitative", "title": "Time t/s"},
            "y": {"datum": 27.3, "type": "quantitative", "title": "Temperature T/°C"}
          }
        }
      ]
    },
    {
      "width": 1239,
      "height": 997,
      "layer": [
        {
          "data": {"name": "bars"},
          "mark": {"type": "bar", "stroke": "#231f20", "strokeWidth": 2.5},
          "encoding": {
            "x": {"field": "t", "type": "nominal", "title": "t/s", "sort": ["50", "100", "300", "500", "800"],
                  "scale": {"paddingInner": 0.19, "paddingOuter": 0.095},
                  "axis": {"labelAngle": 0, "ticks": false, "labelPadding": 44}},
            "xOffset": {"field": "s", "type": "nominal", "sort": ["Al", "S-CNT", "S-CNT-O"], "scale": {"paddingInner": 0, "paddingOuter": 0}},
            "y": {"field": "dT", "type": "quantitative", "title": "ΔT/°C", "scale": {"domain": [0, 35], "nice": false},
                  "axis": {"values": [0, 5, 10, 15, 20, 25, 30, 35], "labelPadding": 57, "titlePadding": 22}},
            "color": {"field": "s", "type": "nominal", "scale": {"domain": ["Al", "S-CNT", "S-CNT-O"], "range": ["#93d4e7", "#46a8d6", "#e087bc"]},
                      "legend": {"title": null, "legendX": 93, "legendY": 75, "symbolType": "M-1.6,-0.777H1.6V0.777H-1.6Z", "symbolSize": 7656, "symbolStrokeColor": "#231f20", "symbolStrokeWidth": 2.5, "symbolOpacity": 1, "labelOffset": 40}}
          }
        },
        {
          "data": {"values": [{}]},
          "mark": {"type": "text", "text": "(d)", "align": "left", "baseline": "middle", "fontSize": 56, "color": "#231f20"},
          "encoding": {
            "x": {"datum": "50", "type": "nominal", "bandPosition": 0, "title": "t/s"},
            "y": {"datum": 33.4, "type": "quantitative", "title": "ΔT/°C"}
          }
        }
      ]
    }
  ],
  "config": {
    "font": "Liberation Serif",
    "view": {"stroke": "#231f20", "strokeWidth": 2.5},
    "axis": {
      "labelFont": "Liberation Serif",
      "titleFont": "Liberation Serif",
      "labelFontSize": 54,
      "titleFontSize": 54,
      "titleFontWeight": "normal",
      "labelColor": "#231f20",
      "titleColor": "#231f20",
      "domainColor": "#231f20",
      "tickColor": "#231f20",
      "domainWidth": 2.5,
      "tickWidth": 2.5,
      "tickSize": -18,
      "labelPadding": 62,
      "grid": false,
      "labelFlush": false,
      "labelOverlap": false,
      "labelExpr": "datum.value >= 1000 ? replace(format(datum.value, ','), ',', ' ') : (isNumber(datum.value) ? format(datum.value, ',') : datum.label)"
    },
    "axisX": {"titlePadding": 28},
    "axisY": {"titlePadding": 39},
    "legend": {
      "orient": "none",
      "padding": 0,
      "rowPadding": 0,
      "labelFont": "Liberation Serif",
      "labelFontSize": 54,
      "labelColor": "#231f20",
      "symbolStrokeWidth": 3,
      "symbolOpacity": 1,
      "labelLimit": 0
    }
  }
}
